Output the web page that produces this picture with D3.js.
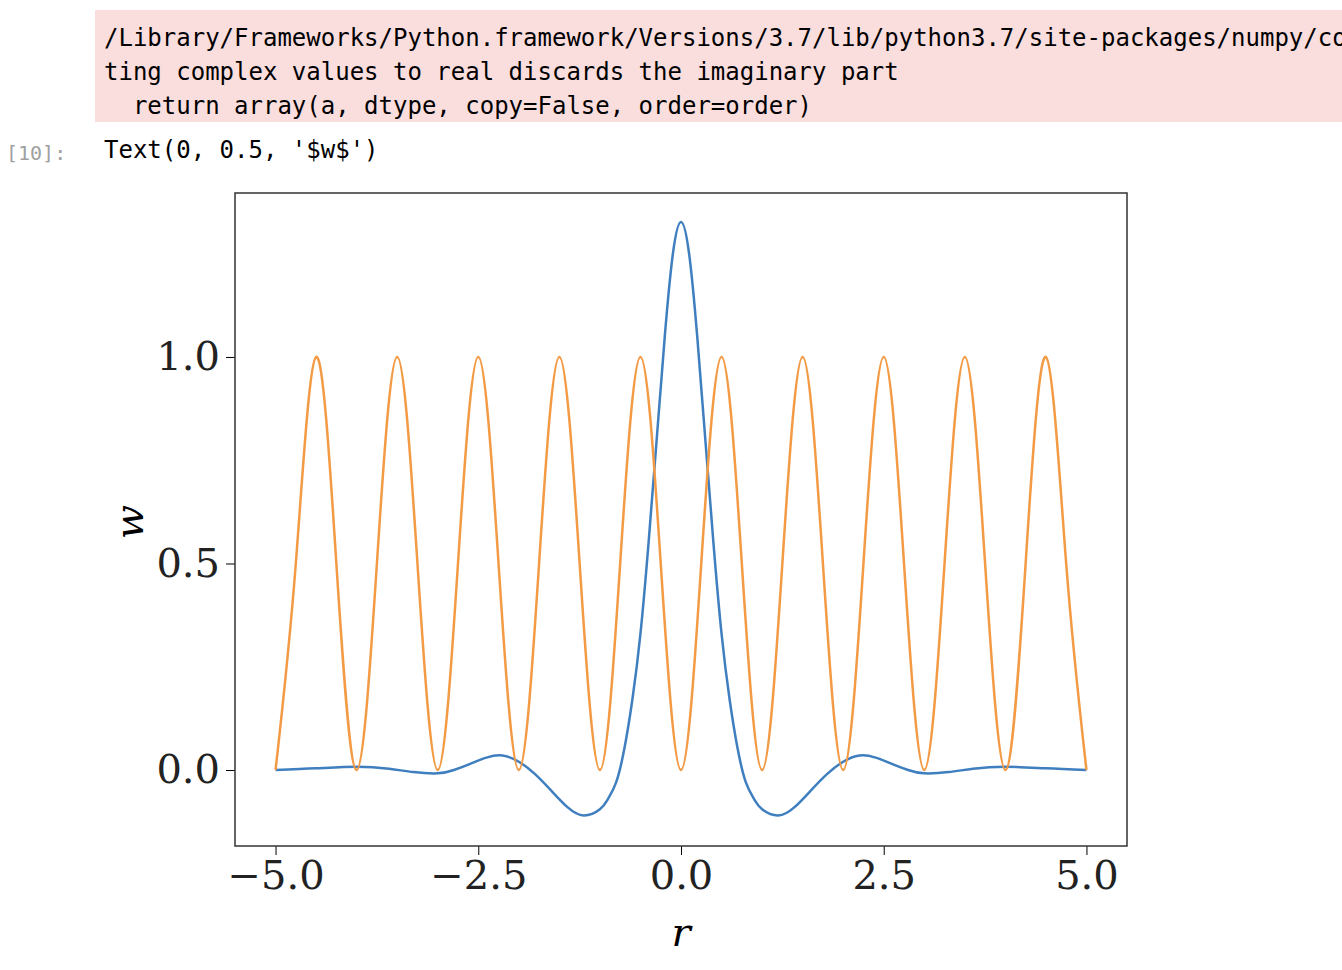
<!DOCTYPE html>
<html>
<head>
<meta charset="utf-8">
<script src="https://cdn.jsdelivr.net/npm/d3@7"></script>
<style>
  body { margin: 0; background: #fff; }
  svg { display: block; }
</style>
</head>
<body>
<svg id="chart" width="1342" height="970"></svg>
<script>
// orange curve, sampled every 0.25 from -5 to 5
const orangeR = d3.range(41).map(i => -5 + i * 0.25);
const orangeW = [0, 0.5, 1, 0.5, 0, 0.5, 1, 0.5, 0, 0.5, 1, 0.5, 0, 0.5, 1, 0.5, 0, 0.5, 1, 0.5,
                 0, 0.5, 1, 0.5, 0, 0.5, 1, 0.5, 0, 0.5, 1, 0.5, 0, 0.5, 1, 0.5, 0, 0.5, 1, 0.5, 0];

// blue curve, read for r >= 0 (it is symmetric about r = 0)
const blueR = [0, 0.1, 0.2, 0.3, 0.4, 0.5, 0.6, 0.7, 0.8, 0.9, 1.0, 1.2, 1.4, 1.6, 1.8, 2.0, 2.2, 2.4, 2.6, 2.8, 3.0, 3.3, 3.6, 4.0, 4.5, 5.0];
const blueW = [1.327, 1.25, 1.05, 0.8, 0.55, 0.33, 0.17, 0.05, -0.03, -0.07, -0.095, -0.11, -0.09, -0.05, -0.01, 0.02, 0.035, 0.03, 0.015, 0.0, -0.008, -0.005, 0.003, 0.008, 0.004, 0];

const xTicks = [-5, -2.5, 0, 2.5, 5];
const yTicks = [0, 0.5, 1];

const svg = d3.select("#chart");

// warning box
svg.append("rect").attr("x", 95).attr("y", 10).attr("width", 1247).attr("height", 112).attr("fill", "#fadddd");
const warn = [
  "/Library/Frameworks/Python.framework/Versions/3.7/lib/python3.7/site-packages/numpy/core/_asarray.py:85: ComplexWarning: Cas",
  "ting complex values to real discards the imaginary part",
  "  return array(a, dtype, copy=False, order=order)"
];
svg.append("g").selectAll("text").data(warn).join("text")
  .attr("x", 104).attr("y", (d, i) => 46 + i * 34)
  .attr("font-family", "DejaVu Sans Mono").attr("font-size", 24).attr("fill", "#000")
  .attr("xml:space", "preserve")
  .text(d => d);
svg.append("text").attr("x", 6).attr("y", 160).attr("font-family", "DejaVu Sans Mono")
  .attr("font-size", 20).attr("fill", "#a0a0a0").text("[10]:");
svg.append("text").attr("x", 104).attr("y", 158).attr("font-family", "DejaVu Sans Mono")
  .attr("font-size", 24).attr("fill", "#000").text("Text(0, 0.5, '$w$')");

// plot
const pLeft = 235, pRight = 1127, pTop = 193, pBottom = 846;
const x = d3.scaleLinear().domain([-5.5, 5.5]).range([pLeft, pRight]);
const y = d3.scaleLinear().domain([-0.184, 1.397]).range([pBottom, pTop]);

const fmt = d => (d < 0 ? "\u2212" : "") + Math.abs(d).toFixed(1);
const tickFont = "DejaVu Serif";

svg.append("g").attr("transform", `translate(0,${pBottom})`)
  .call(d3.axisBottom(x).tickValues(xTicks).tickFormat(fmt).tickSizeOuter(0).tickSize(9).tickPadding(6))
  .call(g => g.select(".domain").remove())
  .call(g => g.selectAll("text").attr("font-family", tickFont).attr("font-size", 40).attr("fill", "#222"));
svg.append("g").attr("transform", `translate(${pLeft},0)`)
  .call(d3.axisLeft(y).tickValues(yTicks).tickFormat(fmt).tickSizeOuter(0).tickSize(9).tickPadding(6))
  .call(g => g.select(".domain").remove())
  .call(g => g.selectAll("text").attr("font-family", tickFont).attr("font-size", 40).attr("fill", "#222"));

svg.append("clipPath").attr("id", "c").append("rect")
  .attr("x", pLeft).attr("y", pTop).attr("width", pRight - pLeft).attr("height", pBottom - pTop);

const line = d3.line().x(d => x(d[0])).y(d => y(d[1])).curve(d3.curveNatural);

const orange = orangeR.map((r, i) => [r, orangeW[i]]);
const blueHalf = blueR.map((r, i) => [r, blueW[i]]);
const blue = blueHalf.slice(1).reverse().map(d => [-d[0], d[1]]).concat(blueHalf);

svg.append("path").datum(blue).attr("d", line).attr("fill", "none")
  .attr("stroke", "#3f7fbf").attr("stroke-width", 2.5).attr("clip-path", "url(#c)");
svg.append("path").datum(orange).attr("d", line).attr("fill", "none")
  .attr("stroke", "#f39a45").attr("stroke-width", 2.5).attr("clip-path", "url(#c)");

svg.append("rect").attr("x", pLeft).attr("y", pTop).attr("width", pRight - pLeft).attr("height", pBottom - pTop)
  .attr("fill", "none").attr("stroke", "#333").attr("stroke-width", 1.5);

svg.append("text").attr("x", x(0)).attr("y", 946).attr("text-anchor", "middle")
  .attr("font-family", tickFont).attr("font-style", "italic").attr("font-size", 40).text("r");
svg.append("text").attr("transform", `translate(143,${y(0.6)}) rotate(-90)`).attr("text-anchor", "middle")
  .attr("font-family", tickFont).attr("font-style", "italic").attr("font-size", 40).text("w");
</script>
</body>
</html>
